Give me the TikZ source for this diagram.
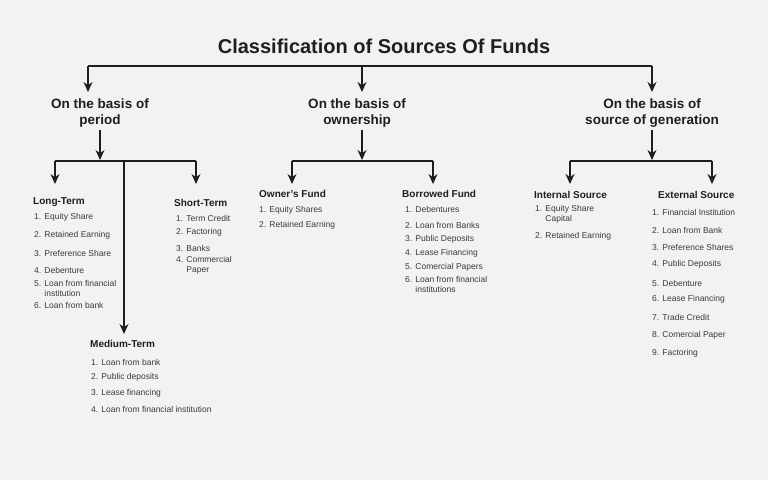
\documentclass[tikz,border=0pt]{standalone}
\usepackage{fontspec}
\setmainfont{Liberation Sans}
\usetikzlibrary{arrows.meta}
\definecolor{bg}{HTML}{F2F2F2}
\definecolor{ink}{HTML}{1E1E1E}
\definecolor{txt}{HTML}{3A3A3A}
\begin{document}
\begin{tikzpicture}[x=1pt,y=-1pt,
  line/.style={draw=ink,line width=1.4pt},
  arr/.style={line,-{Stealth[length=10pt,width=9pt]}},
  title/.style={font=\bfseries\fontsize{20}{22}\selectfont,text=ink},
  head/.style={font=\fontsize{13.5}{16.5}\selectfont\bfseries,text=ink,align=center,inner sep=0pt},
  sub/.style={font=\fontsize{10}{11}\selectfont\bfseries,text=ink,anchor=west,inner sep=0pt},
  item/.style={font=\fontsize{8.5}{10}\selectfont,text=txt,anchor=west,inner sep=0pt,align=left}]
\fill[bg] (0,0) rectangle (768,480);
\useasboundingbox (0,0) rectangle (768,480);
\node[title] (t) at (384,46) {Classification of Sources Of Funds};
\coordinate (tl) at (88,66); \coordinate (tr) at (652,66); \coordinate (tm) at (362,66);
\coordinate (a1) at (88,92); \coordinate (a2) at (362,92); \coordinate (a3) at (652,92);
\draw[line] (tl) -- (tr);
\draw[arr] (tl) -- (a1); \draw[arr] (tm) -- (a2); \draw[arr] (tr) -- (a3);
\node[head] (h1) at (100,113) {On the basis of\\period};
\node[head] (h2) at (357,113) {On the basis of\\ownership};
\node[head] (h3) at (652,113) {On the basis of\\source of generation};
% branch 1
\coordinate (b1) at (100,130); \coordinate (j1) at (100,160);
\coordinate (l1) at (55,161); \coordinate (r1) at (196,161); \coordinate (m1) at (124,161);
\draw[arr] (b1) -- (j1);
\draw[line] (l1) -- (r1);
\coordinate (l1e) at (55,184); \coordinate (r1e) at (196,184); \coordinate (m1e) at (124,334);
\draw[arr] (l1) -- (l1e); \draw[arr] (r1) -- (r1e); \draw[arr] (m1) -- (m1e);
\node[sub] (lt) at (33,202) {Long-Term};
\node[item] (lt1) at (34,217) {1. Equity Share};
\node[item] (lt2) at (34,235) {2. Retained Earning};
\node[item] (lt3) at (34,253) {3. Preference Share};
\node[item] (lt4) at (34,270) {4. Debenture};
\node[item] (lt5) at (34,288) {5. Loan from financial\\\hphantom{5. }institution};
\node[item] (lt6) at (34,305) {6. Loan from bank};
\node[sub] (st) at (174,203) {Short-Term};
\node[item] (st1) at (176,218) {1. Term Credit};
\node[item] (st2) at (176,232) {2. Factoring};
\node[item] (st3) at (176,248) {3. Banks};
\node[item] (st4) at (176,265) {4. Commercial\\\hphantom{4. }Paper};
\node[sub] (mt) at (90,344) {Medium-Term};
\node[item] (mt1) at (91,362) {1. Loan from bank};
\node[item] (mt2) at (91,377) {2. Public deposits};
\node[item] (mt3) at (91,393) {3. Lease financing};
\node[item] (mt4) at (91,409) {4. Loan from financial institution};
% branch 2
\coordinate (b2) at (362,130); \coordinate (j2) at (362,160);
\coordinate (l2) at (292,161); \coordinate (r2) at (433,161);
\draw[arr] (b2) -- (j2);
\draw[line] (l2) -- (r2);
\coordinate (l2e) at (292,184); \coordinate (r2e) at (433,184);
\draw[arr] (l2) -- (l2e); \draw[arr] (r2) -- (r2e);
\node[sub] (of) at (259,194) {Owner's Fund};
\node[item] (of1) at (259,210) {1. Equity Shares};
\node[item] (of2) at (259,225) {2. Retained Earning};
\node[sub] (bf) at (402,194) {Borrowed Fund};
\node[item] (bf1) at (405,209) {1. Debentures};
\node[item] (bf2) at (405,225) {2. Loan from Banks};
\node[item] (bf3) at (405,239) {3. Public Deposits};
\node[item] (bf4) at (405,253) {4. Lease Financing};
\node[item] (bf5) at (405,267) {5. Comercial Papers};
\node[item] (bf6) at (405,284) {6. Loan from financial\\\hphantom{6. }institutions};
% branch 3
\coordinate (b3) at (652,130); \coordinate (j3) at (652,160);
\coordinate (l3) at (570,161); \coordinate (r3) at (712,161);
\draw[arr] (b3) -- (j3);
\draw[line] (l3) -- (r3);
\coordinate (l3e) at (570,184); \coordinate (r3e) at (712,184);
\draw[arr] (l3) -- (l3e); \draw[arr] (r3) -- (r3e);
\node[sub] (is) at (534,195) {Internal Source};
\node[item] (is1) at (535,214) {1. Equity Share\\\hphantom{1. }Capital};
\node[item] (is2) at (535,236) {2. Retained Earning};
\node[sub] (es) at (658,195) {External Source};
\node[item] (es1) at (652,212) {1. Financial Institution};
\node[item] (es2) at (652,230) {2. Loan from Bank};
\node[item] (es3) at (652,247) {3. Preference Shares};
\node[item] (es4) at (652,264) {4. Public Deposits};
\node[item] (es5) at (652,283) {5. Debenture};
\node[item] (es6) at (652,299) {6. Lease Financing};
\node[item] (es7) at (652,317) {7. Trade Credit};
\node[item] (es8) at (652,335) {8. Comercial Paper};
\node[item] (es9) at (652,353) {9. Factoring};
\end{tikzpicture}
\end{document}
